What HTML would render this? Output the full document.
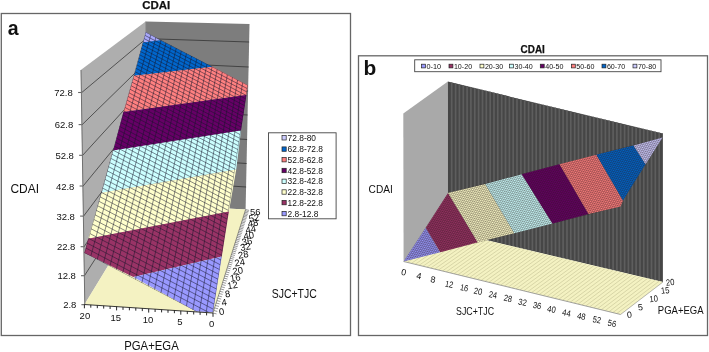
<!DOCTYPE html>
<html><head><meta charset="utf-8"><title>CDAI surface charts</title>
<style>html,body{margin:0;padding:0;background:#fff}svg{display:block}text{font-family:"Liberation Sans",sans-serif}</style>
</head><body>
<svg width="709" height="352" viewBox="0 0 709 352">
<rect width="709" height="352" fill="#fff"/>
<rect x="1.3" y="13.5" width="349.2" height="322" fill="#fff" stroke="#666" stroke-width="1.3"/>
<rect x="358.5" y="55.8" width="349" height="279.7" fill="#fff" stroke="#666" stroke-width="1.3"/>
<polygon points="80.8,70.0 145.7,21.6 145.7,204.0 84.6,304.5" fill="#aeaeae" />
<polygon points="145.7,21.6 249.5,24.0 245.6,209.5 145.7,204.0" fill="#7d7d7d" />
<line x1="81.3" y1="92.9" x2="145.7" y2="39.0" stroke="#333" stroke-width="0.75" />
<line x1="145.7" y1="38.6" x2="249.1" y2="42.0" stroke="#333" stroke-width="0.8" />
<line x1="78.1" y1="92.5" x2="81.3" y2="92.5" stroke="#666" stroke-width="1.1" />
<line x1="81.8" y1="125.0" x2="145.7" y2="62.6" stroke="#333" stroke-width="0.75" />
<line x1="145.7" y1="62.2" x2="248.6" y2="67.0" stroke="#333" stroke-width="0.8" />
<line x1="78.6" y1="124.6" x2="81.8" y2="124.6" stroke="#666" stroke-width="1.1" />
<line x1="82.3" y1="155.7" x2="145.7" y2="86.3" stroke="#333" stroke-width="0.75" />
<line x1="145.7" y1="85.9" x2="248.1" y2="91.0" stroke="#333" stroke-width="0.8" />
<line x1="79.1" y1="155.3" x2="82.3" y2="155.3" stroke="#666" stroke-width="1.1" />
<line x1="82.8" y1="186.4" x2="145.7" y2="109.9" stroke="#333" stroke-width="0.75" />
<line x1="145.7" y1="109.5" x2="247.6" y2="115.0" stroke="#333" stroke-width="0.8" />
<line x1="79.6" y1="186.0" x2="82.8" y2="186.0" stroke="#666" stroke-width="1.1" />
<line x1="83.3" y1="216.5" x2="145.7" y2="133.5" stroke="#333" stroke-width="0.75" />
<line x1="145.7" y1="133.1" x2="247.1" y2="139.5" stroke="#333" stroke-width="0.8" />
<line x1="80.1" y1="216.1" x2="83.3" y2="216.1" stroke="#666" stroke-width="1.1" />
<line x1="83.8" y1="247.1" x2="145.7" y2="157.2" stroke="#333" stroke-width="0.75" />
<line x1="145.7" y1="156.8" x2="246.6" y2="163.5" stroke="#333" stroke-width="0.8" />
<line x1="80.6" y1="246.7" x2="83.8" y2="246.7" stroke="#666" stroke-width="1.1" />
<line x1="84.2" y1="276.1" x2="145.7" y2="180.8" stroke="#333" stroke-width="0.75" />
<line x1="145.7" y1="180.4" x2="246.1" y2="187.0" stroke="#333" stroke-width="0.8" />
<line x1="81.0" y1="275.7" x2="84.2" y2="275.7" stroke="#666" stroke-width="1.1" />
<line x1="145.7" y1="21.6" x2="145.7" y2="204.0" stroke="#8a8a8a" stroke-width="0.8" />
<polygon points="84.4,304.5 213.0,313.0 245.6,209.5 145.7,204.0" fill="#f4f2c2" />
<line x1="81.0" y1="70.0" x2="84.8" y2="304.5" stroke="#707070" stroke-width="1" />
<line x1="81.4" y1="304.7" x2="84.6" y2="304.7" stroke="#555" stroke-width="1" />
<clipPath id="ca"><polygon points="145.7,32.1 247.8,85.2 213.0,312.3 196.2,311.5 84.4,252.9"/></clipPath>
<polygon points="145.7,32.1 160.5,40.3 143.0,42.4" fill="#a8a8fa" />
<polygon points="143.0,42.4 160.5,40.3 212.4,66.8 134.1,75.7" fill="#0066cc" />
<polygon points="134.1,75.7 212.4,66.8 247.8,85.2 246.4,95.0 123.4,112.0" fill="#ff8080" />
<polygon points="123.4,112.0 246.4,95.0 241.0,130.4 113.3,150.6" fill="#660066" />
<polygon points="113.3,150.6 241.0,130.4 236.2,169.4 101.7,192.8" fill="#ccffff" />
<polygon points="101.7,192.8 236.2,169.4 228.9,211.6 88.1,238.8" fill="#ffffcc" />
<polygon points="88.1,238.8 228.9,211.6 221.8,256.5 133.3,277.0 84.4,252.9" fill="#993366" />
<polygon points="133.3,277.0 221.8,256.5 213.0,312.3 196.2,311.5" fill="#9999ff" />
<g clip-path="url(#ca)" stroke-opacity="0.64">
<line x1="84.4" y1="252.9" x2="211.9" y2="319.7" stroke="#15152a" stroke-width="0.8" />
<line x1="85.8" y1="248.0" x2="212.7" y2="314.5" stroke="#15152a" stroke-width="0.8" />
<line x1="87.1" y1="243.1" x2="213.5" y2="309.3" stroke="#15152a" stroke-width="0.8" />
<line x1="88.5" y1="238.3" x2="214.3" y2="304.2" stroke="#15152a" stroke-width="0.8" />
<line x1="89.8" y1="233.5" x2="215.0" y2="299.1" stroke="#15152a" stroke-width="0.8" />
<line x1="91.1" y1="228.8" x2="215.8" y2="294.1" stroke="#15152a" stroke-width="0.8" />
<line x1="92.4" y1="224.1" x2="216.6" y2="289.1" stroke="#15152a" stroke-width="0.8" />
<line x1="93.7" y1="219.4" x2="217.3" y2="284.2" stroke="#15152a" stroke-width="0.8" />
<line x1="95.0" y1="214.8" x2="218.1" y2="279.3" stroke="#15152a" stroke-width="0.8" />
<line x1="96.2" y1="210.3" x2="218.8" y2="274.4" stroke="#15152a" stroke-width="0.8" />
<line x1="97.5" y1="205.7" x2="219.6" y2="269.6" stroke="#15152a" stroke-width="0.8" />
<line x1="98.7" y1="201.2" x2="220.3" y2="264.8" stroke="#15152a" stroke-width="0.8" />
<line x1="100.0" y1="196.8" x2="221.0" y2="260.1" stroke="#15152a" stroke-width="0.8" />
<line x1="101.2" y1="192.3" x2="221.7" y2="255.4" stroke="#15152a" stroke-width="0.8" />
<line x1="102.4" y1="188.0" x2="222.5" y2="250.7" stroke="#15152a" stroke-width="0.8" />
<line x1="103.6" y1="183.6" x2="223.2" y2="246.1" stroke="#15152a" stroke-width="0.8" />
<line x1="104.8" y1="179.3" x2="223.9" y2="241.5" stroke="#15152a" stroke-width="0.8" />
<line x1="106.0" y1="175.0" x2="224.6" y2="237.0" stroke="#15152a" stroke-width="0.8" />
<line x1="107.2" y1="170.8" x2="225.3" y2="232.5" stroke="#15152a" stroke-width="0.8" />
<line x1="108.4" y1="166.6" x2="225.9" y2="228.0" stroke="#15152a" stroke-width="0.8" />
<line x1="109.5" y1="162.4" x2="226.6" y2="223.6" stroke="#15152a" stroke-width="0.8" />
<line x1="110.7" y1="158.3" x2="227.3" y2="219.2" stroke="#15152a" stroke-width="0.8" />
<line x1="111.8" y1="154.2" x2="228.0" y2="214.8" stroke="#15152a" stroke-width="0.8" />
<line x1="112.9" y1="150.1" x2="228.6" y2="210.5" stroke="#15152a" stroke-width="0.8" />
<line x1="114.1" y1="146.1" x2="229.3" y2="206.2" stroke="#15152a" stroke-width="0.8" />
<line x1="115.2" y1="142.1" x2="229.9" y2="202.0" stroke="#15152a" stroke-width="0.8" />
<line x1="116.3" y1="138.1" x2="230.6" y2="197.8" stroke="#15152a" stroke-width="0.8" />
<line x1="117.4" y1="134.1" x2="231.2" y2="193.6" stroke="#15152a" stroke-width="0.8" />
<line x1="118.5" y1="130.2" x2="231.8" y2="189.4" stroke="#15152a" stroke-width="0.8" />
<line x1="119.5" y1="126.4" x2="232.5" y2="185.3" stroke="#15152a" stroke-width="0.8" />
<line x1="120.6" y1="122.5" x2="233.1" y2="181.2" stroke="#15152a" stroke-width="0.8" />
<line x1="121.7" y1="118.7" x2="233.7" y2="177.2" stroke="#15152a" stroke-width="0.8" />
<line x1="122.7" y1="114.9" x2="234.3" y2="173.1" stroke="#15152a" stroke-width="0.8" />
<line x1="123.8" y1="111.1" x2="234.9" y2="169.1" stroke="#15152a" stroke-width="0.8" />
<line x1="124.8" y1="107.4" x2="235.6" y2="165.2" stroke="#15152a" stroke-width="0.8" />
<line x1="125.8" y1="103.7" x2="236.2" y2="161.3" stroke="#15152a" stroke-width="0.8" />
<line x1="126.8" y1="100.0" x2="236.8" y2="157.4" stroke="#15152a" stroke-width="0.8" />
<line x1="127.9" y1="96.4" x2="237.3" y2="153.5" stroke="#15152a" stroke-width="0.8" />
<line x1="128.9" y1="92.8" x2="237.9" y2="149.6" stroke="#15152a" stroke-width="0.8" />
<line x1="129.9" y1="89.2" x2="238.5" y2="145.8" stroke="#15152a" stroke-width="0.8" />
<line x1="130.8" y1="85.6" x2="239.1" y2="142.0" stroke="#15152a" stroke-width="0.8" />
<line x1="131.8" y1="82.1" x2="239.7" y2="138.3" stroke="#15152a" stroke-width="0.8" />
<line x1="132.8" y1="78.6" x2="240.2" y2="134.6" stroke="#15152a" stroke-width="0.8" />
<line x1="133.8" y1="75.1" x2="240.8" y2="130.9" stroke="#15152a" stroke-width="0.8" />
<line x1="134.7" y1="71.6" x2="241.4" y2="127.2" stroke="#15152a" stroke-width="0.8" />
<line x1="135.7" y1="68.2" x2="241.9" y2="123.6" stroke="#15152a" stroke-width="0.8" />
<line x1="136.6" y1="64.8" x2="242.5" y2="119.9" stroke="#15152a" stroke-width="0.8" />
<line x1="137.6" y1="61.4" x2="243.0" y2="116.4" stroke="#15152a" stroke-width="0.8" />
<line x1="138.5" y1="58.1" x2="243.6" y2="112.8" stroke="#15152a" stroke-width="0.8" />
<line x1="139.4" y1="54.7" x2="244.1" y2="109.3" stroke="#15152a" stroke-width="0.8" />
<line x1="140.3" y1="51.4" x2="244.7" y2="105.7" stroke="#15152a" stroke-width="0.8" />
<line x1="141.2" y1="48.2" x2="245.2" y2="102.3" stroke="#15152a" stroke-width="0.8" />
<line x1="142.1" y1="44.9" x2="245.7" y2="98.8" stroke="#15152a" stroke-width="0.8" />
<line x1="143.0" y1="41.7" x2="246.2" y2="95.4" stroke="#15152a" stroke-width="0.8" />
<line x1="143.9" y1="38.5" x2="246.8" y2="91.9" stroke="#15152a" stroke-width="0.8" />
<line x1="144.8" y1="35.3" x2="247.3" y2="88.6" stroke="#15152a" stroke-width="0.8" />
<line x1="145.7" y1="32.1" x2="247.8" y2="85.2" stroke="#15152a" stroke-width="0.8" />
<line x1="145.7" y1="32.1" x2="84.4" y2="252.9" stroke="#15152a" stroke-width="0.8" />
<line x1="150.8" y1="34.8" x2="90.8" y2="256.2" stroke="#15152a" stroke-width="0.8" />
<line x1="155.9" y1="37.4" x2="97.2" y2="259.6" stroke="#15152a" stroke-width="0.8" />
<line x1="161.0" y1="40.1" x2="103.5" y2="262.9" stroke="#15152a" stroke-width="0.8" />
<line x1="166.1" y1="42.7" x2="109.9" y2="266.3" stroke="#15152a" stroke-width="0.8" />
<line x1="171.2" y1="45.4" x2="116.3" y2="269.6" stroke="#15152a" stroke-width="0.8" />
<line x1="176.3" y1="48.0" x2="122.7" y2="272.9" stroke="#15152a" stroke-width="0.8" />
<line x1="181.4" y1="50.7" x2="129.0" y2="276.3" stroke="#15152a" stroke-width="0.8" />
<line x1="186.5" y1="53.3" x2="135.4" y2="279.6" stroke="#15152a" stroke-width="0.8" />
<line x1="191.6" y1="56.0" x2="141.8" y2="283.0" stroke="#15152a" stroke-width="0.8" />
<line x1="196.8" y1="58.7" x2="148.2" y2="286.3" stroke="#15152a" stroke-width="0.8" />
<line x1="201.9" y1="61.3" x2="154.5" y2="289.6" stroke="#15152a" stroke-width="0.8" />
<line x1="207.0" y1="64.0" x2="160.9" y2="293.0" stroke="#15152a" stroke-width="0.8" />
<line x1="212.1" y1="66.6" x2="167.3" y2="296.3" stroke="#15152a" stroke-width="0.8" />
<line x1="217.2" y1="69.3" x2="173.7" y2="299.7" stroke="#15152a" stroke-width="0.8" />
<line x1="222.3" y1="71.9" x2="180.0" y2="303.0" stroke="#15152a" stroke-width="0.8" />
<line x1="227.4" y1="74.6" x2="186.4" y2="306.3" stroke="#15152a" stroke-width="0.8" />
<line x1="232.5" y1="77.2" x2="192.8" y2="309.7" stroke="#15152a" stroke-width="0.8" />
<line x1="237.6" y1="79.9" x2="199.2" y2="313.0" stroke="#15152a" stroke-width="0.8" />
<line x1="242.7" y1="82.5" x2="205.5" y2="316.4" stroke="#15152a" stroke-width="0.8" />
<line x1="247.8" y1="85.2" x2="211.9" y2="319.7" stroke="#15152a" stroke-width="0.8" />
</g>
<line x1="84.4" y1="304.5" x2="213.0" y2="313.0" stroke="#222" stroke-width="0.9" />
<line x1="84.4" y1="304.5" x2="84.4" y2="308.3" stroke="#111" stroke-width="0.9" />
<line x1="90.8" y1="304.9" x2="90.8" y2="307.7" stroke="#111" stroke-width="0.9" />
<line x1="97.3" y1="305.4" x2="97.3" y2="308.2" stroke="#111" stroke-width="0.9" />
<line x1="103.7" y1="305.8" x2="103.7" y2="308.6" stroke="#111" stroke-width="0.9" />
<line x1="110.1" y1="306.2" x2="110.1" y2="309.0" stroke="#111" stroke-width="0.9" />
<line x1="116.6" y1="306.6" x2="116.6" y2="310.4" stroke="#111" stroke-width="0.9" />
<line x1="123.0" y1="307.1" x2="123.0" y2="309.9" stroke="#111" stroke-width="0.9" />
<line x1="129.4" y1="307.5" x2="129.4" y2="310.3" stroke="#111" stroke-width="0.9" />
<line x1="135.8" y1="307.9" x2="135.8" y2="310.7" stroke="#111" stroke-width="0.9" />
<line x1="142.3" y1="308.3" x2="142.3" y2="311.1" stroke="#111" stroke-width="0.9" />
<line x1="148.7" y1="308.8" x2="148.7" y2="312.6" stroke="#111" stroke-width="0.9" />
<line x1="155.1" y1="309.2" x2="155.1" y2="312.0" stroke="#111" stroke-width="0.9" />
<line x1="161.6" y1="309.6" x2="161.6" y2="312.4" stroke="#111" stroke-width="0.9" />
<line x1="168.0" y1="310.0" x2="168.0" y2="312.8" stroke="#111" stroke-width="0.9" />
<line x1="174.4" y1="310.4" x2="174.4" y2="313.2" stroke="#111" stroke-width="0.9" />
<line x1="180.8" y1="310.9" x2="180.8" y2="314.7" stroke="#111" stroke-width="0.9" />
<line x1="187.3" y1="311.3" x2="187.3" y2="314.1" stroke="#111" stroke-width="0.9" />
<line x1="193.7" y1="311.7" x2="193.7" y2="314.5" stroke="#111" stroke-width="0.9" />
<line x1="200.1" y1="312.1" x2="200.1" y2="314.9" stroke="#111" stroke-width="0.9" />
<line x1="206.6" y1="312.6" x2="206.6" y2="315.4" stroke="#111" stroke-width="0.9" />
<line x1="213.0" y1="313.0" x2="213.0" y2="316.8" stroke="#111" stroke-width="0.9" />
<line x1="213.0" y1="313.0" x2="245.6" y2="209.5" stroke="#555" stroke-width="0.6" />
<line x1="213.0" y1="313.0" x2="216.5" y2="313.9" stroke="#333" stroke-width="0.5" />
<line x1="213.8" y1="310.5" x2="217.3" y2="311.4" stroke="#333" stroke-width="0.5" />
<line x1="214.6" y1="307.9" x2="218.1" y2="308.8" stroke="#333" stroke-width="0.5" />
<line x1="215.4" y1="305.5" x2="218.9" y2="306.4" stroke="#333" stroke-width="0.5" />
<line x1="216.1" y1="303.0" x2="219.6" y2="303.9" stroke="#333" stroke-width="0.5" />
<line x1="216.9" y1="300.6" x2="220.4" y2="301.5" stroke="#333" stroke-width="0.5" />
<line x1="217.7" y1="298.2" x2="221.2" y2="299.1" stroke="#333" stroke-width="0.5" />
<line x1="218.4" y1="295.9" x2="221.9" y2="296.8" stroke="#333" stroke-width="0.5" />
<line x1="219.1" y1="293.5" x2="222.6" y2="294.4" stroke="#333" stroke-width="0.5" />
<line x1="219.8" y1="291.3" x2="223.3" y2="292.2" stroke="#333" stroke-width="0.5" />
<line x1="220.6" y1="289.0" x2="224.1" y2="289.9" stroke="#333" stroke-width="0.5" />
<line x1="221.3" y1="286.8" x2="224.8" y2="287.7" stroke="#333" stroke-width="0.5" />
<line x1="222.0" y1="284.6" x2="225.5" y2="285.5" stroke="#333" stroke-width="0.5" />
<line x1="222.6" y1="282.4" x2="226.1" y2="283.3" stroke="#333" stroke-width="0.5" />
<line x1="223.3" y1="280.2" x2="226.8" y2="281.1" stroke="#333" stroke-width="0.5" />
<line x1="224.0" y1="278.1" x2="227.5" y2="279.0" stroke="#333" stroke-width="0.5" />
<line x1="224.6" y1="276.0" x2="228.1" y2="276.9" stroke="#333" stroke-width="0.5" />
<line x1="225.3" y1="274.0" x2="228.8" y2="274.9" stroke="#333" stroke-width="0.5" />
<line x1="225.9" y1="271.9" x2="229.4" y2="272.8" stroke="#333" stroke-width="0.5" />
<line x1="226.6" y1="269.9" x2="230.1" y2="270.8" stroke="#333" stroke-width="0.5" />
<line x1="227.2" y1="267.9" x2="230.7" y2="268.8" stroke="#333" stroke-width="0.5" />
<line x1="227.8" y1="266.0" x2="231.3" y2="266.9" stroke="#333" stroke-width="0.5" />
<line x1="228.4" y1="264.0" x2="231.9" y2="264.9" stroke="#333" stroke-width="0.5" />
<line x1="229.0" y1="262.1" x2="232.5" y2="263.0" stroke="#333" stroke-width="0.5" />
<line x1="229.6" y1="260.2" x2="233.1" y2="261.1" stroke="#333" stroke-width="0.5" />
<line x1="230.2" y1="258.3" x2="233.7" y2="259.2" stroke="#333" stroke-width="0.5" />
<line x1="230.8" y1="256.5" x2="234.3" y2="257.4" stroke="#333" stroke-width="0.5" />
<line x1="231.4" y1="254.6" x2="234.9" y2="255.5" stroke="#333" stroke-width="0.5" />
<line x1="232.0" y1="252.8" x2="235.5" y2="253.7" stroke="#333" stroke-width="0.5" />
<line x1="232.5" y1="251.0" x2="236.0" y2="251.9" stroke="#333" stroke-width="0.5" />
<line x1="233.1" y1="249.3" x2="236.6" y2="250.2" stroke="#333" stroke-width="0.5" />
<line x1="233.6" y1="247.5" x2="237.1" y2="248.4" stroke="#333" stroke-width="0.5" />
<line x1="234.2" y1="245.8" x2="237.7" y2="246.7" stroke="#333" stroke-width="0.5" />
<line x1="234.7" y1="244.1" x2="238.2" y2="245.0" stroke="#333" stroke-width="0.5" />
<line x1="235.2" y1="242.4" x2="238.7" y2="243.3" stroke="#333" stroke-width="0.5" />
<line x1="235.8" y1="240.7" x2="239.3" y2="241.6" stroke="#333" stroke-width="0.5" />
<line x1="236.3" y1="239.1" x2="239.8" y2="240.0" stroke="#333" stroke-width="0.5" />
<line x1="236.8" y1="237.4" x2="240.3" y2="238.3" stroke="#333" stroke-width="0.5" />
<line x1="237.3" y1="235.8" x2="240.8" y2="236.7" stroke="#333" stroke-width="0.5" />
<line x1="237.8" y1="234.2" x2="241.3" y2="235.1" stroke="#333" stroke-width="0.5" />
<line x1="238.3" y1="232.6" x2="241.8" y2="233.5" stroke="#333" stroke-width="0.5" />
<line x1="238.8" y1="231.1" x2="242.3" y2="232.0" stroke="#333" stroke-width="0.5" />
<line x1="239.3" y1="229.5" x2="242.8" y2="230.4" stroke="#333" stroke-width="0.5" />
<line x1="239.8" y1="228.0" x2="243.3" y2="228.9" stroke="#333" stroke-width="0.5" />
<line x1="240.2" y1="226.5" x2="243.7" y2="227.4" stroke="#333" stroke-width="0.5" />
<line x1="240.7" y1="225.0" x2="244.2" y2="225.9" stroke="#333" stroke-width="0.5" />
<line x1="241.2" y1="223.5" x2="244.7" y2="224.4" stroke="#333" stroke-width="0.5" />
<line x1="241.6" y1="222.0" x2="245.1" y2="222.9" stroke="#333" stroke-width="0.5" />
<line x1="242.1" y1="220.6" x2="245.6" y2="221.5" stroke="#333" stroke-width="0.5" />
<line x1="242.6" y1="219.2" x2="246.1" y2="220.1" stroke="#333" stroke-width="0.5" />
<line x1="243.0" y1="217.7" x2="246.5" y2="218.6" stroke="#333" stroke-width="0.5" />
<line x1="243.5" y1="216.3" x2="247.0" y2="217.2" stroke="#333" stroke-width="0.5" />
<line x1="243.9" y1="214.9" x2="247.4" y2="215.8" stroke="#333" stroke-width="0.5" />
<line x1="244.3" y1="213.6" x2="247.8" y2="214.5" stroke="#333" stroke-width="0.5" />
<line x1="244.8" y1="212.2" x2="248.3" y2="213.1" stroke="#333" stroke-width="0.5" />
<line x1="245.2" y1="210.8" x2="248.7" y2="211.7" stroke="#333" stroke-width="0.5" />
<line x1="245.6" y1="209.5" x2="249.1" y2="210.4" stroke="#333" stroke-width="0.5" />
<text x="72.8" y="96.2" font-size="9.5" text-anchor="end" fill="#111" >72.8</text>
<text x="73.3" y="128.3" font-size="9.5" text-anchor="end" fill="#111" >62.8</text>
<text x="73.9" y="159.0" font-size="9.5" text-anchor="end" fill="#111" >52.8</text>
<text x="74.4" y="189.7" font-size="9.5" text-anchor="end" fill="#111" >42.8</text>
<text x="74.9" y="219.8" font-size="9.5" text-anchor="end" fill="#111" >32.8</text>
<text x="75.4" y="250.4" font-size="9.5" text-anchor="end" fill="#111" >22.8</text>
<text x="75.9" y="279.4" font-size="9.5" text-anchor="end" fill="#111" >12.8</text>
<text x="76.4" y="308.2" font-size="9.5" text-anchor="end" fill="#111" >2.8</text>
<text x="10.4" y="192.7" font-size="12" textLength="28.6" lengthAdjust="spacingAndGlyphs" fill="#111" >CDAI</text>
<text x="84.9" y="319.3" font-size="9.5" text-anchor="middle" fill="#111" >20</text>
<text x="115.8" y="321.0" font-size="9.5" text-anchor="middle" fill="#111" >15</text>
<text x="148.1" y="323.2" font-size="9.5" text-anchor="middle" fill="#111" >10</text>
<text x="179.8" y="325.0" font-size="9.5" text-anchor="middle" fill="#111" >5</text>
<text x="211.6" y="327.4" font-size="9.5" text-anchor="middle" fill="#111" >0</text>
<text x="124.2" y="350.3" font-size="12" textLength="54.6" lengthAdjust="spacingAndGlyphs" fill="#111" >PGA+EGA</text>
<text x="271.7" y="298.1" font-size="12" textLength="45.1" lengthAdjust="spacingAndGlyphs" fill="#111" >SJC+TJC</text>
<text x="250.0" y="215.0" font-size="9.5" fill="#111" >56</text>
<text x="254.4" y="221.2" font-size="9.5" text-anchor="middle" transform="rotate(-9 254.4 221.2)" fill="#111" >52</text>
<text x="253.5" y="226.3" font-size="9.5" text-anchor="middle" transform="rotate(-9 253.5 226.3)" fill="#111" >48</text>
<text x="251.3" y="232.6" font-size="9.5" text-anchor="middle" transform="rotate(-9 251.3 232.6)" fill="#111" >44</text>
<text x="249.3" y="238.7" font-size="9.5" text-anchor="middle" transform="rotate(-9 249.3 238.7)" fill="#111" >40</text>
<text x="247.6" y="244.7" font-size="9.5" text-anchor="middle" transform="rotate(-9 247.6 244.7)" fill="#111" >36</text>
<text x="245.9" y="250.1" font-size="9.5" text-anchor="middle" transform="rotate(-9 245.9 250.1)" fill="#111" >32</text>
<text x="243.8" y="257.8" font-size="9.5" text-anchor="middle" transform="rotate(-9 243.8 257.8)" fill="#111" >28</text>
<text x="240.2" y="265.7" font-size="9.5" text-anchor="middle" transform="rotate(-9 240.2 265.7)" fill="#111" >24</text>
<text x="238.2" y="273.9" font-size="9.5" text-anchor="middle" transform="rotate(-9 238.2 273.9)" fill="#111" >20</text>
<text x="235.8" y="281.0" font-size="9.5" text-anchor="middle" transform="rotate(-9 235.8 281.0)" fill="#111" >16</text>
<text x="233.0" y="288.5" font-size="9.5" text-anchor="middle" transform="rotate(-9 233.0 288.5)" fill="#111" >12</text>
<text x="228.0" y="297.1" font-size="9.5" text-anchor="middle" transform="rotate(-9 228.0 297.1)" fill="#111" >8</text>
<text x="224.5" y="305.6" font-size="9.5" text-anchor="middle" transform="rotate(-9 224.5 305.6)" fill="#111" >4</text>
<text x="222.2" y="314.8" font-size="9.5" text-anchor="middle" transform="rotate(-9 222.2 314.8)" fill="#111" >0</text>
<text x="142.2" y="9.2" font-size="11.6" font-weight="bold" textLength="28" lengthAdjust="spacingAndGlyphs" fill="#111" stroke="#111" stroke-width="0.25">CDAI</text>
<text x="7.7" y="35.0" font-size="19.5" font-weight="bold" fill="#111" >a</text>
<rect x="268.5" y="132.8" width="67.6" height="86" fill="#fff" stroke="#444" stroke-width="0.9"/>
<rect x="282" y="135.6" width="4.2" height="4.4" fill="#ccccff" stroke="#222" stroke-width="0.7"/>
<text x="287.6" y="140.8" font-size="8.4" fill="#111" >72.8-80</text>
<rect x="282" y="146.9" width="4.2" height="4.4" fill="#0066cc" stroke="#222" stroke-width="0.7"/>
<text x="287.6" y="152.1" font-size="8.4" fill="#111" >62.8-72.8</text>
<rect x="282" y="157.5" width="4.2" height="4.4" fill="#ff8080" stroke="#222" stroke-width="0.7"/>
<text x="287.6" y="162.7" font-size="8.4" fill="#111" >52.8-62.8</text>
<rect x="282" y="168.3" width="4.2" height="4.4" fill="#660066" stroke="#222" stroke-width="0.7"/>
<text x="287.6" y="173.5" font-size="8.4" fill="#111" >42.8-52.8</text>
<rect x="282" y="179.1" width="4.2" height="4.4" fill="#ccffff" stroke="#222" stroke-width="0.7"/>
<text x="287.6" y="184.3" font-size="8.4" fill="#111" >32.8-42.8</text>
<rect x="282" y="189.8" width="4.2" height="4.4" fill="#ffffcc" stroke="#222" stroke-width="0.7"/>
<text x="287.6" y="195.0" font-size="8.4" fill="#111" >22.8-32.8</text>
<rect x="282" y="200.4" width="4.2" height="4.4" fill="#993366" stroke="#222" stroke-width="0.7"/>
<text x="287.6" y="205.6" font-size="8.4" fill="#111" >12.8-22.8</text>
<rect x="282" y="211.4" width="4.2" height="4.4" fill="#9999ff" stroke="#222" stroke-width="0.7"/>
<text x="287.6" y="216.6" font-size="8.4" fill="#111" >2.8-12.8</text>
<polygon points="403.3,113.4 447.9,81.6 447.9,231.0 403.6,261.5" fill="#a9a9a9" />
<polygon points="447.9,81.6 663.0,133.6 663.0,282.0 447.9,231.0" fill="#464646" />
<clipPath id="cbw"><polygon points="447.9,81.6 663.0,133.6 663.0,282.0 447.9,231.0"/></clipPath>
<g clip-path="url(#cbw)">
<line x1="451.7" y1="80.0" x2="451.7" y2="283.0" stroke="#5e5e5e" stroke-width="1.7" />
<line x1="455.6" y1="80.0" x2="455.6" y2="283.0" stroke="#5e5e5e" stroke-width="1.7" />
<line x1="459.4" y1="80.0" x2="459.4" y2="283.0" stroke="#5e5e5e" stroke-width="1.7" />
<line x1="463.3" y1="80.0" x2="463.3" y2="283.0" stroke="#5e5e5e" stroke-width="1.7" />
<line x1="467.1" y1="80.0" x2="467.1" y2="283.0" stroke="#5e5e5e" stroke-width="1.7" />
<line x1="470.9" y1="80.0" x2="470.9" y2="283.0" stroke="#5e5e5e" stroke-width="1.7" />
<line x1="474.8" y1="80.0" x2="474.8" y2="283.0" stroke="#5e5e5e" stroke-width="1.7" />
<line x1="478.6" y1="80.0" x2="478.6" y2="283.0" stroke="#5e5e5e" stroke-width="1.7" />
<line x1="482.5" y1="80.0" x2="482.5" y2="283.0" stroke="#5e5e5e" stroke-width="1.7" />
<line x1="486.3" y1="80.0" x2="486.3" y2="283.0" stroke="#5e5e5e" stroke-width="1.7" />
<line x1="490.2" y1="80.0" x2="490.2" y2="283.0" stroke="#5e5e5e" stroke-width="1.7" />
<line x1="494.0" y1="80.0" x2="494.0" y2="283.0" stroke="#5e5e5e" stroke-width="1.7" />
<line x1="497.8" y1="80.0" x2="497.8" y2="283.0" stroke="#5e5e5e" stroke-width="1.7" />
<line x1="501.7" y1="80.0" x2="501.7" y2="283.0" stroke="#5e5e5e" stroke-width="1.7" />
<line x1="505.5" y1="80.0" x2="505.5" y2="283.0" stroke="#5e5e5e" stroke-width="1.7" />
<line x1="509.4" y1="80.0" x2="509.4" y2="283.0" stroke="#5e5e5e" stroke-width="1.7" />
<line x1="513.2" y1="80.0" x2="513.2" y2="283.0" stroke="#5e5e5e" stroke-width="1.7" />
<line x1="517.0" y1="80.0" x2="517.0" y2="283.0" stroke="#5e5e5e" stroke-width="1.7" />
<line x1="520.9" y1="80.0" x2="520.9" y2="283.0" stroke="#5e5e5e" stroke-width="1.7" />
<line x1="524.7" y1="80.0" x2="524.7" y2="283.0" stroke="#5e5e5e" stroke-width="1.7" />
<line x1="528.6" y1="80.0" x2="528.6" y2="283.0" stroke="#5e5e5e" stroke-width="1.7" />
<line x1="532.4" y1="80.0" x2="532.4" y2="283.0" stroke="#5e5e5e" stroke-width="1.7" />
<line x1="536.2" y1="80.0" x2="536.2" y2="283.0" stroke="#5e5e5e" stroke-width="1.7" />
<line x1="540.1" y1="80.0" x2="540.1" y2="283.0" stroke="#5e5e5e" stroke-width="1.7" />
<line x1="543.9" y1="80.0" x2="543.9" y2="283.0" stroke="#5e5e5e" stroke-width="1.7" />
<line x1="547.8" y1="80.0" x2="547.8" y2="283.0" stroke="#5e5e5e" stroke-width="1.7" />
<line x1="551.6" y1="80.0" x2="551.6" y2="283.0" stroke="#5e5e5e" stroke-width="1.7" />
<line x1="555.5" y1="80.0" x2="555.5" y2="283.0" stroke="#5e5e5e" stroke-width="1.7" />
<line x1="559.3" y1="80.0" x2="559.3" y2="283.0" stroke="#5e5e5e" stroke-width="1.7" />
<line x1="563.1" y1="80.0" x2="563.1" y2="283.0" stroke="#5e5e5e" stroke-width="1.7" />
<line x1="567.0" y1="80.0" x2="567.0" y2="283.0" stroke="#5e5e5e" stroke-width="1.7" />
<line x1="570.8" y1="80.0" x2="570.8" y2="283.0" stroke="#5e5e5e" stroke-width="1.7" />
<line x1="574.7" y1="80.0" x2="574.7" y2="283.0" stroke="#5e5e5e" stroke-width="1.7" />
<line x1="578.5" y1="80.0" x2="578.5" y2="283.0" stroke="#5e5e5e" stroke-width="1.7" />
<line x1="582.3" y1="80.0" x2="582.3" y2="283.0" stroke="#5e5e5e" stroke-width="1.7" />
<line x1="586.2" y1="80.0" x2="586.2" y2="283.0" stroke="#5e5e5e" stroke-width="1.7" />
<line x1="590.0" y1="80.0" x2="590.0" y2="283.0" stroke="#5e5e5e" stroke-width="1.7" />
<line x1="593.9" y1="80.0" x2="593.9" y2="283.0" stroke="#5e5e5e" stroke-width="1.7" />
<line x1="597.7" y1="80.0" x2="597.7" y2="283.0" stroke="#5e5e5e" stroke-width="1.7" />
<line x1="601.5" y1="80.0" x2="601.5" y2="283.0" stroke="#5e5e5e" stroke-width="1.7" />
<line x1="605.4" y1="80.0" x2="605.4" y2="283.0" stroke="#5e5e5e" stroke-width="1.7" />
<line x1="609.2" y1="80.0" x2="609.2" y2="283.0" stroke="#5e5e5e" stroke-width="1.7" />
<line x1="613.1" y1="80.0" x2="613.1" y2="283.0" stroke="#5e5e5e" stroke-width="1.7" />
<line x1="616.9" y1="80.0" x2="616.9" y2="283.0" stroke="#5e5e5e" stroke-width="1.7" />
<line x1="620.7" y1="80.0" x2="620.7" y2="283.0" stroke="#5e5e5e" stroke-width="1.7" />
<line x1="624.6" y1="80.0" x2="624.6" y2="283.0" stroke="#5e5e5e" stroke-width="1.7" />
<line x1="628.4" y1="80.0" x2="628.4" y2="283.0" stroke="#5e5e5e" stroke-width="1.7" />
<line x1="632.3" y1="80.0" x2="632.3" y2="283.0" stroke="#5e5e5e" stroke-width="1.7" />
<line x1="636.1" y1="80.0" x2="636.1" y2="283.0" stroke="#5e5e5e" stroke-width="1.7" />
<line x1="640.0" y1="80.0" x2="640.0" y2="283.0" stroke="#5e5e5e" stroke-width="1.7" />
<line x1="643.8" y1="80.0" x2="643.8" y2="283.0" stroke="#5e5e5e" stroke-width="1.7" />
<line x1="647.6" y1="80.0" x2="647.6" y2="283.0" stroke="#5e5e5e" stroke-width="1.7" />
<line x1="651.5" y1="80.0" x2="651.5" y2="283.0" stroke="#5e5e5e" stroke-width="1.7" />
<line x1="655.3" y1="80.0" x2="655.3" y2="283.0" stroke="#5e5e5e" stroke-width="1.7" />
<line x1="659.2" y1="80.0" x2="659.2" y2="283.0" stroke="#5e5e5e" stroke-width="1.7" />
<line x1="663.0" y1="80.0" x2="663.0" y2="283.0" stroke="#5e5e5e" stroke-width="1.7" />
</g>
<polygon points="403.6,261.5 620.6,314.5 663.0,282.0 447.9,231.0" fill="#f4f2c2" />
<clipPath id="cfb"><polygon points="403.6,261.5 620.6,314.5 663.0,282.0 447.9,231.0"/></clipPath>
<g clip-path="url(#cfb)">
<line x1="407.5" y1="262.4" x2="451.7" y2="231.9" stroke="#d2d0a2" stroke-width="0.85" />
<line x1="411.4" y1="263.4" x2="455.6" y2="232.8" stroke="#d2d0a2" stroke-width="0.85" />
<line x1="415.2" y1="264.3" x2="459.4" y2="233.7" stroke="#d2d0a2" stroke-width="0.85" />
<line x1="419.1" y1="265.3" x2="463.3" y2="234.6" stroke="#d2d0a2" stroke-width="0.85" />
<line x1="423.0" y1="266.2" x2="467.1" y2="235.6" stroke="#d2d0a2" stroke-width="0.85" />
<line x1="426.9" y1="267.2" x2="470.9" y2="236.5" stroke="#d2d0a2" stroke-width="0.85" />
<line x1="430.7" y1="268.1" x2="474.8" y2="237.4" stroke="#d2d0a2" stroke-width="0.85" />
<line x1="434.6" y1="269.1" x2="478.6" y2="238.3" stroke="#d2d0a2" stroke-width="0.85" />
<line x1="438.5" y1="270.0" x2="482.5" y2="239.2" stroke="#d2d0a2" stroke-width="0.85" />
<line x1="442.4" y1="271.0" x2="486.3" y2="240.1" stroke="#d2d0a2" stroke-width="0.85" />
<line x1="446.2" y1="271.9" x2="490.2" y2="241.0" stroke="#d2d0a2" stroke-width="0.85" />
<line x1="450.1" y1="272.9" x2="494.0" y2="241.9" stroke="#d2d0a2" stroke-width="0.85" />
<line x1="454.0" y1="273.8" x2="497.8" y2="242.8" stroke="#d2d0a2" stroke-width="0.85" />
<line x1="457.9" y1="274.8" x2="501.7" y2="243.8" stroke="#d2d0a2" stroke-width="0.85" />
<line x1="461.7" y1="275.7" x2="505.5" y2="244.7" stroke="#d2d0a2" stroke-width="0.85" />
<line x1="465.6" y1="276.6" x2="509.4" y2="245.6" stroke="#d2d0a2" stroke-width="0.85" />
<line x1="469.5" y1="277.6" x2="513.2" y2="246.5" stroke="#d2d0a2" stroke-width="0.85" />
<line x1="473.4" y1="278.5" x2="517.0" y2="247.4" stroke="#d2d0a2" stroke-width="0.85" />
<line x1="477.2" y1="279.5" x2="520.9" y2="248.3" stroke="#d2d0a2" stroke-width="0.85" />
<line x1="481.1" y1="280.4" x2="524.7" y2="249.2" stroke="#d2d0a2" stroke-width="0.85" />
<line x1="485.0" y1="281.4" x2="528.6" y2="250.1" stroke="#d2d0a2" stroke-width="0.85" />
<line x1="488.9" y1="282.3" x2="532.4" y2="251.0" stroke="#d2d0a2" stroke-width="0.85" />
<line x1="492.7" y1="283.3" x2="536.2" y2="251.9" stroke="#d2d0a2" stroke-width="0.85" />
<line x1="496.6" y1="284.2" x2="540.1" y2="252.9" stroke="#d2d0a2" stroke-width="0.85" />
<line x1="500.5" y1="285.2" x2="543.9" y2="253.8" stroke="#d2d0a2" stroke-width="0.85" />
<line x1="504.4" y1="286.1" x2="547.8" y2="254.7" stroke="#d2d0a2" stroke-width="0.85" />
<line x1="508.2" y1="287.1" x2="551.6" y2="255.6" stroke="#d2d0a2" stroke-width="0.85" />
<line x1="512.1" y1="288.0" x2="555.5" y2="256.5" stroke="#d2d0a2" stroke-width="0.85" />
<line x1="516.0" y1="288.9" x2="559.3" y2="257.4" stroke="#d2d0a2" stroke-width="0.85" />
<line x1="519.9" y1="289.9" x2="563.1" y2="258.3" stroke="#d2d0a2" stroke-width="0.85" />
<line x1="523.7" y1="290.8" x2="567.0" y2="259.2" stroke="#d2d0a2" stroke-width="0.85" />
<line x1="527.6" y1="291.8" x2="570.8" y2="260.1" stroke="#d2d0a2" stroke-width="0.85" />
<line x1="531.5" y1="292.7" x2="574.7" y2="261.1" stroke="#d2d0a2" stroke-width="0.85" />
<line x1="535.4" y1="293.7" x2="578.5" y2="262.0" stroke="#d2d0a2" stroke-width="0.85" />
<line x1="539.2" y1="294.6" x2="582.3" y2="262.9" stroke="#d2d0a2" stroke-width="0.85" />
<line x1="543.1" y1="295.6" x2="586.2" y2="263.8" stroke="#d2d0a2" stroke-width="0.85" />
<line x1="547.0" y1="296.5" x2="590.0" y2="264.7" stroke="#d2d0a2" stroke-width="0.85" />
<line x1="550.9" y1="297.5" x2="593.9" y2="265.6" stroke="#d2d0a2" stroke-width="0.85" />
<line x1="554.7" y1="298.4" x2="597.7" y2="266.5" stroke="#d2d0a2" stroke-width="0.85" />
<line x1="558.6" y1="299.4" x2="601.5" y2="267.4" stroke="#d2d0a2" stroke-width="0.85" />
<line x1="562.5" y1="300.3" x2="605.4" y2="268.3" stroke="#d2d0a2" stroke-width="0.85" />
<line x1="566.4" y1="301.2" x2="609.2" y2="269.2" stroke="#d2d0a2" stroke-width="0.85" />
<line x1="570.2" y1="302.2" x2="613.1" y2="270.2" stroke="#d2d0a2" stroke-width="0.85" />
<line x1="574.1" y1="303.1" x2="616.9" y2="271.1" stroke="#d2d0a2" stroke-width="0.85" />
<line x1="578.0" y1="304.1" x2="620.7" y2="272.0" stroke="#d2d0a2" stroke-width="0.85" />
<line x1="581.9" y1="305.0" x2="624.6" y2="272.9" stroke="#d2d0a2" stroke-width="0.85" />
<line x1="585.7" y1="306.0" x2="628.4" y2="273.8" stroke="#d2d0a2" stroke-width="0.85" />
<line x1="589.6" y1="306.9" x2="632.3" y2="274.7" stroke="#d2d0a2" stroke-width="0.85" />
<line x1="593.5" y1="307.9" x2="636.1" y2="275.6" stroke="#d2d0a2" stroke-width="0.85" />
<line x1="597.4" y1="308.8" x2="640.0" y2="276.5" stroke="#d2d0a2" stroke-width="0.85" />
<line x1="601.2" y1="309.8" x2="643.8" y2="277.4" stroke="#d2d0a2" stroke-width="0.85" />
<line x1="605.1" y1="310.7" x2="647.6" y2="278.4" stroke="#d2d0a2" stroke-width="0.85" />
<line x1="609.0" y1="311.7" x2="651.5" y2="279.3" stroke="#d2d0a2" stroke-width="0.85" />
<line x1="612.9" y1="312.6" x2="655.3" y2="280.2" stroke="#d2d0a2" stroke-width="0.85" />
<line x1="616.7" y1="313.6" x2="659.2" y2="281.1" stroke="#d2d0a2" stroke-width="0.85" />
<line x1="620.6" y1="314.5" x2="663.0" y2="282.0" stroke="#d2d0a2" stroke-width="0.85" />
</g>
<polygon points="403.6,261.4 425.8,227.7 440.3,252.2" fill="#9999ff" />
<polygon points="425.8,227.7 448.0,193.0 477.7,242.3 440.3,252.2" fill="#993366" />
<polygon points="448.0,193.0 485.3,184.0 514.3,233.2 477.7,242.3" fill="#ffffcc" />
<polygon points="485.3,184.0 521.8,174.2 552.5,223.4 514.3,233.2" fill="#ccffff" />
<polygon points="521.8,174.2 559.5,164.3 588.5,214.0 552.5,223.4" fill="#660066" />
<polygon points="559.5,164.3 596.4,154.8 623.0,200.5 620.5,206.6 588.5,214.0" fill="#ff8080" />
<polygon points="596.4,154.8 633.5,145.6 645.5,164.3 623.0,200.5" fill="#0066cc" />
<polygon points="633.5,145.6 662.5,137.5 645.5,164.3" fill="#ccccff" />
<clipPath id="cb"><polygon points="448.0,193.0 662.5,137.5 623.0,200.5 620.5,206.6 403.6,261.4"/></clipPath>
<g clip-path="url(#cb)" stroke-opacity="0.36">
<line x1="403.6" y1="261.4" x2="448.0" y2="193.0" stroke="#2a1a1a" stroke-width="0.85" />
<line x1="406.2" y1="260.7" x2="450.6" y2="192.3" stroke="#2a1a1a" stroke-width="0.85" />
<line x1="408.8" y1="260.1" x2="453.1" y2="191.7" stroke="#2a1a1a" stroke-width="0.85" />
<line x1="411.4" y1="259.4" x2="455.7" y2="191.0" stroke="#2a1a1a" stroke-width="0.85" />
<line x1="414.0" y1="258.8" x2="458.2" y2="190.4" stroke="#2a1a1a" stroke-width="0.85" />
<line x1="416.6" y1="258.1" x2="460.8" y2="189.7" stroke="#2a1a1a" stroke-width="0.85" />
<line x1="419.2" y1="257.5" x2="463.3" y2="189.0" stroke="#2a1a1a" stroke-width="0.85" />
<line x1="421.8" y1="256.8" x2="465.9" y2="188.4" stroke="#2a1a1a" stroke-width="0.85" />
<line x1="424.4" y1="256.2" x2="468.4" y2="187.7" stroke="#2a1a1a" stroke-width="0.85" />
<line x1="426.9" y1="255.5" x2="471.0" y2="187.1" stroke="#2a1a1a" stroke-width="0.85" />
<line x1="429.5" y1="254.9" x2="473.5" y2="186.4" stroke="#2a1a1a" stroke-width="0.85" />
<line x1="432.1" y1="254.2" x2="476.1" y2="185.7" stroke="#2a1a1a" stroke-width="0.85" />
<line x1="434.7" y1="253.5" x2="478.6" y2="185.1" stroke="#2a1a1a" stroke-width="0.85" />
<line x1="437.3" y1="252.9" x2="481.2" y2="184.4" stroke="#2a1a1a" stroke-width="0.85" />
<line x1="439.9" y1="252.2" x2="483.8" y2="183.8" stroke="#2a1a1a" stroke-width="0.85" />
<line x1="442.5" y1="251.6" x2="486.3" y2="183.1" stroke="#2a1a1a" stroke-width="0.85" />
<line x1="445.1" y1="250.9" x2="488.9" y2="182.4" stroke="#2a1a1a" stroke-width="0.85" />
<line x1="447.7" y1="250.3" x2="491.4" y2="181.8" stroke="#2a1a1a" stroke-width="0.85" />
<line x1="450.3" y1="249.6" x2="494.0" y2="181.1" stroke="#2a1a1a" stroke-width="0.85" />
<line x1="452.9" y1="249.0" x2="496.5" y2="180.4" stroke="#2a1a1a" stroke-width="0.85" />
<line x1="455.5" y1="248.3" x2="499.1" y2="179.8" stroke="#2a1a1a" stroke-width="0.85" />
<line x1="458.1" y1="247.6" x2="501.6" y2="179.1" stroke="#2a1a1a" stroke-width="0.85" />
<line x1="460.7" y1="247.0" x2="504.2" y2="178.5" stroke="#2a1a1a" stroke-width="0.85" />
<line x1="463.3" y1="246.3" x2="506.7" y2="177.8" stroke="#2a1a1a" stroke-width="0.85" />
<line x1="465.9" y1="245.7" x2="509.3" y2="177.1" stroke="#2a1a1a" stroke-width="0.85" />
<line x1="468.5" y1="245.0" x2="511.8" y2="176.5" stroke="#2a1a1a" stroke-width="0.85" />
<line x1="471.0" y1="244.4" x2="514.4" y2="175.8" stroke="#2a1a1a" stroke-width="0.85" />
<line x1="473.6" y1="243.7" x2="516.9" y2="175.2" stroke="#2a1a1a" stroke-width="0.85" />
<line x1="476.2" y1="243.1" x2="519.5" y2="174.5" stroke="#2a1a1a" stroke-width="0.85" />
<line x1="478.8" y1="242.4" x2="522.1" y2="173.8" stroke="#2a1a1a" stroke-width="0.85" />
<line x1="481.4" y1="241.8" x2="524.6" y2="173.2" stroke="#2a1a1a" stroke-width="0.85" />
<line x1="484.0" y1="241.1" x2="527.2" y2="172.5" stroke="#2a1a1a" stroke-width="0.85" />
<line x1="486.6" y1="240.4" x2="529.7" y2="171.9" stroke="#2a1a1a" stroke-width="0.85" />
<line x1="489.2" y1="239.8" x2="532.3" y2="171.2" stroke="#2a1a1a" stroke-width="0.85" />
<line x1="491.8" y1="239.1" x2="534.8" y2="170.5" stroke="#2a1a1a" stroke-width="0.85" />
<line x1="494.4" y1="238.5" x2="537.4" y2="169.9" stroke="#2a1a1a" stroke-width="0.85" />
<line x1="497.0" y1="237.8" x2="539.9" y2="169.2" stroke="#2a1a1a" stroke-width="0.85" />
<line x1="499.6" y1="237.2" x2="542.5" y2="168.6" stroke="#2a1a1a" stroke-width="0.85" />
<line x1="502.2" y1="236.5" x2="545.0" y2="167.9" stroke="#2a1a1a" stroke-width="0.85" />
<line x1="504.8" y1="235.9" x2="547.6" y2="167.2" stroke="#2a1a1a" stroke-width="0.85" />
<line x1="507.4" y1="235.2" x2="550.1" y2="166.6" stroke="#2a1a1a" stroke-width="0.85" />
<line x1="510.0" y1="234.6" x2="552.7" y2="165.9" stroke="#2a1a1a" stroke-width="0.85" />
<line x1="512.5" y1="233.9" x2="555.2" y2="165.2" stroke="#2a1a1a" stroke-width="0.85" />
<line x1="515.1" y1="233.2" x2="557.8" y2="164.6" stroke="#2a1a1a" stroke-width="0.85" />
<line x1="517.7" y1="232.6" x2="560.4" y2="163.9" stroke="#2a1a1a" stroke-width="0.85" />
<line x1="520.3" y1="231.9" x2="562.9" y2="163.3" stroke="#2a1a1a" stroke-width="0.85" />
<line x1="522.9" y1="231.3" x2="565.5" y2="162.6" stroke="#2a1a1a" stroke-width="0.85" />
<line x1="525.5" y1="230.6" x2="568.0" y2="161.9" stroke="#2a1a1a" stroke-width="0.85" />
<line x1="528.1" y1="230.0" x2="570.6" y2="161.3" stroke="#2a1a1a" stroke-width="0.85" />
<line x1="530.7" y1="229.3" x2="573.1" y2="160.6" stroke="#2a1a1a" stroke-width="0.85" />
<line x1="533.3" y1="228.7" x2="575.7" y2="160.0" stroke="#2a1a1a" stroke-width="0.85" />
<line x1="535.9" y1="228.0" x2="578.2" y2="159.3" stroke="#2a1a1a" stroke-width="0.85" />
<line x1="538.5" y1="227.4" x2="580.8" y2="158.6" stroke="#2a1a1a" stroke-width="0.85" />
<line x1="541.1" y1="226.7" x2="583.3" y2="158.0" stroke="#2a1a1a" stroke-width="0.85" />
<line x1="543.7" y1="226.0" x2="585.9" y2="157.3" stroke="#2a1a1a" stroke-width="0.85" />
<line x1="546.3" y1="225.4" x2="588.4" y2="156.7" stroke="#2a1a1a" stroke-width="0.85" />
<line x1="548.9" y1="224.7" x2="591.0" y2="156.0" stroke="#2a1a1a" stroke-width="0.85" />
<line x1="551.5" y1="224.1" x2="593.6" y2="155.3" stroke="#2a1a1a" stroke-width="0.85" />
<line x1="554.1" y1="223.4" x2="596.1" y2="154.7" stroke="#2a1a1a" stroke-width="0.85" />
<line x1="556.6" y1="222.8" x2="598.7" y2="154.0" stroke="#2a1a1a" stroke-width="0.85" />
<line x1="559.2" y1="222.1" x2="601.2" y2="153.4" stroke="#2a1a1a" stroke-width="0.85" />
<line x1="561.8" y1="221.5" x2="603.8" y2="152.7" stroke="#2a1a1a" stroke-width="0.85" />
<line x1="564.4" y1="220.8" x2="606.3" y2="152.0" stroke="#2a1a1a" stroke-width="0.85" />
<line x1="567.0" y1="220.2" x2="608.9" y2="151.4" stroke="#2a1a1a" stroke-width="0.85" />
<line x1="569.6" y1="219.5" x2="611.4" y2="150.7" stroke="#2a1a1a" stroke-width="0.85" />
<line x1="572.2" y1="218.8" x2="614.0" y2="150.1" stroke="#2a1a1a" stroke-width="0.85" />
<line x1="574.8" y1="218.2" x2="616.5" y2="149.4" stroke="#2a1a1a" stroke-width="0.85" />
<line x1="577.4" y1="217.5" x2="619.1" y2="148.7" stroke="#2a1a1a" stroke-width="0.85" />
<line x1="580.0" y1="216.9" x2="621.6" y2="148.1" stroke="#2a1a1a" stroke-width="0.85" />
<line x1="582.6" y1="216.2" x2="624.2" y2="147.4" stroke="#2a1a1a" stroke-width="0.85" />
<line x1="585.2" y1="215.6" x2="626.8" y2="146.8" stroke="#2a1a1a" stroke-width="0.85" />
<line x1="587.8" y1="214.9" x2="629.3" y2="146.1" stroke="#2a1a1a" stroke-width="0.85" />
<line x1="590.4" y1="214.3" x2="631.9" y2="145.4" stroke="#2a1a1a" stroke-width="0.85" />
<line x1="593.0" y1="213.6" x2="634.4" y2="144.8" stroke="#2a1a1a" stroke-width="0.85" />
<line x1="595.6" y1="212.9" x2="637.0" y2="144.1" stroke="#2a1a1a" stroke-width="0.85" />
<line x1="598.2" y1="212.3" x2="639.5" y2="143.4" stroke="#2a1a1a" stroke-width="0.85" />
<line x1="600.7" y1="211.6" x2="642.1" y2="142.8" stroke="#2a1a1a" stroke-width="0.85" />
<line x1="603.3" y1="211.0" x2="644.6" y2="142.1" stroke="#2a1a1a" stroke-width="0.85" />
<line x1="605.9" y1="210.3" x2="647.2" y2="141.5" stroke="#2a1a1a" stroke-width="0.85" />
<line x1="608.5" y1="209.7" x2="649.7" y2="140.8" stroke="#2a1a1a" stroke-width="0.85" />
<line x1="611.1" y1="209.0" x2="652.3" y2="140.1" stroke="#2a1a1a" stroke-width="0.85" />
<line x1="613.7" y1="208.4" x2="654.8" y2="139.5" stroke="#2a1a1a" stroke-width="0.85" />
<line x1="616.3" y1="207.7" x2="657.4" y2="138.8" stroke="#2a1a1a" stroke-width="0.85" />
<line x1="618.9" y1="207.1" x2="659.9" y2="138.2" stroke="#2a1a1a" stroke-width="0.85" />
<line x1="621.5" y1="206.4" x2="662.5" y2="137.5" stroke="#2a1a1a" stroke-width="0.85" />
<line x1="403.6" y1="261.4" x2="621.5" y2="206.4" stroke="#2a1a1a" stroke-width="0.85" />
<line x1="405.1" y1="259.1" x2="622.9" y2="204.1" stroke="#2a1a1a" stroke-width="0.85" />
<line x1="406.6" y1="256.8" x2="624.2" y2="201.8" stroke="#2a1a1a" stroke-width="0.85" />
<line x1="408.0" y1="254.6" x2="625.6" y2="199.5" stroke="#2a1a1a" stroke-width="0.85" />
<line x1="409.5" y1="252.3" x2="627.0" y2="197.2" stroke="#2a1a1a" stroke-width="0.85" />
<line x1="411.0" y1="250.0" x2="628.3" y2="194.9" stroke="#2a1a1a" stroke-width="0.85" />
<line x1="412.5" y1="247.7" x2="629.7" y2="192.6" stroke="#2a1a1a" stroke-width="0.85" />
<line x1="414.0" y1="245.4" x2="631.1" y2="190.3" stroke="#2a1a1a" stroke-width="0.85" />
<line x1="415.4" y1="243.2" x2="632.4" y2="188.0" stroke="#2a1a1a" stroke-width="0.85" />
<line x1="416.9" y1="240.9" x2="633.8" y2="185.7" stroke="#2a1a1a" stroke-width="0.85" />
<line x1="418.4" y1="238.6" x2="635.2" y2="183.4" stroke="#2a1a1a" stroke-width="0.85" />
<line x1="419.9" y1="236.3" x2="636.5" y2="181.1" stroke="#2a1a1a" stroke-width="0.85" />
<line x1="421.4" y1="234.0" x2="637.9" y2="178.8" stroke="#2a1a1a" stroke-width="0.85" />
<line x1="422.8" y1="231.8" x2="639.3" y2="176.5" stroke="#2a1a1a" stroke-width="0.85" />
<line x1="424.3" y1="229.5" x2="640.6" y2="174.2" stroke="#2a1a1a" stroke-width="0.85" />
<line x1="425.8" y1="227.2" x2="642.0" y2="171.9" stroke="#2a1a1a" stroke-width="0.85" />
<line x1="427.3" y1="224.9" x2="643.4" y2="169.7" stroke="#2a1a1a" stroke-width="0.85" />
<line x1="428.8" y1="222.6" x2="644.7" y2="167.4" stroke="#2a1a1a" stroke-width="0.85" />
<line x1="430.2" y1="220.4" x2="646.1" y2="165.1" stroke="#2a1a1a" stroke-width="0.85" />
<line x1="431.7" y1="218.1" x2="647.5" y2="162.8" stroke="#2a1a1a" stroke-width="0.85" />
<line x1="433.2" y1="215.8" x2="648.8" y2="160.5" stroke="#2a1a1a" stroke-width="0.85" />
<line x1="434.7" y1="213.5" x2="650.2" y2="158.2" stroke="#2a1a1a" stroke-width="0.85" />
<line x1="436.2" y1="211.2" x2="651.6" y2="155.9" stroke="#2a1a1a" stroke-width="0.85" />
<line x1="437.6" y1="209.0" x2="652.9" y2="153.6" stroke="#2a1a1a" stroke-width="0.85" />
<line x1="439.1" y1="206.7" x2="654.3" y2="151.3" stroke="#2a1a1a" stroke-width="0.85" />
<line x1="440.6" y1="204.4" x2="655.7" y2="149.0" stroke="#2a1a1a" stroke-width="0.85" />
<line x1="442.1" y1="202.1" x2="657.0" y2="146.7" stroke="#2a1a1a" stroke-width="0.85" />
<line x1="443.6" y1="199.8" x2="658.4" y2="144.4" stroke="#2a1a1a" stroke-width="0.85" />
<line x1="445.0" y1="197.6" x2="659.8" y2="142.1" stroke="#2a1a1a" stroke-width="0.85" />
<line x1="446.5" y1="195.3" x2="661.1" y2="139.8" stroke="#2a1a1a" stroke-width="0.85" />
<line x1="448.0" y1="193.0" x2="662.5" y2="137.5" stroke="#2a1a1a" stroke-width="0.85" />
</g>
<line x1="403.6" y1="261.5" x2="620.6" y2="314.5" stroke="#8a8a8a" stroke-width="0.8" />
<line x1="620.6" y1="314.5" x2="663.0" y2="282.0" stroke="#9a9a9a" stroke-width="0.6" />
<text x="363.4" y="75.0" font-size="19.5" font-weight="bold" textLength="12.8" lengthAdjust="spacingAndGlyphs" fill="#111" >b</text>
<text x="520.6" y="52.7" font-size="10.2" font-weight="bold" textLength="24.2" lengthAdjust="spacingAndGlyphs" fill="#111" stroke="#111" stroke-width="0.25">CDAI</text>
<text x="368.6" y="193.4" font-size="10.8" textLength="24.2" lengthAdjust="spacingAndGlyphs" fill="#111" >CDAI</text>
<text x="403.2" y="275.2" font-size="8.9" text-anchor="middle" transform="rotate(11 403.2 275.2)" fill="#111" >0</text>
<text x="418.4" y="278.9" font-size="8.9" text-anchor="middle" transform="rotate(11 418.4 278.9)" fill="#111" >4</text>
<text x="432.5" y="282.5" font-size="8.9" text-anchor="middle" transform="rotate(11 432.5 282.5)" fill="#111" >8</text>
<text x="448.6" y="287.2" font-size="8.9" text-anchor="middle" textLength="8.5" lengthAdjust="spacingAndGlyphs" transform="rotate(11 448.6 287.2)" fill="#111" >12</text>
<text x="463.6" y="290.7" font-size="8.9" text-anchor="middle" textLength="8.5" lengthAdjust="spacingAndGlyphs" transform="rotate(11 463.6 290.7)" fill="#111" >16</text>
<text x="477.5" y="294.2" font-size="8.9" text-anchor="middle" textLength="8.5" lengthAdjust="spacingAndGlyphs" transform="rotate(11 477.5 294.2)" fill="#111" >20</text>
<text x="492.3" y="297.7" font-size="8.9" text-anchor="middle" textLength="8.5" lengthAdjust="spacingAndGlyphs" transform="rotate(11 492.3 297.7)" fill="#111" >24</text>
<text x="507.3" y="301.4" font-size="8.9" text-anchor="middle" textLength="8.5" lengthAdjust="spacingAndGlyphs" transform="rotate(11 507.3 301.4)" fill="#111" >28</text>
<text x="522.0" y="305.2" font-size="8.9" text-anchor="middle" textLength="8.5" lengthAdjust="spacingAndGlyphs" transform="rotate(11 522.0 305.2)" fill="#111" >32</text>
<text x="536.6" y="308.5" font-size="8.9" text-anchor="middle" textLength="8.5" lengthAdjust="spacingAndGlyphs" transform="rotate(11 536.6 308.5)" fill="#111" >36</text>
<text x="551.0" y="312.2" font-size="8.9" text-anchor="middle" textLength="8.5" lengthAdjust="spacingAndGlyphs" transform="rotate(11 551.0 312.2)" fill="#111" >40</text>
<text x="566.0" y="315.9" font-size="8.9" text-anchor="middle" textLength="8.5" lengthAdjust="spacingAndGlyphs" transform="rotate(11 566.0 315.9)" fill="#111" >44</text>
<text x="580.8" y="319.2" font-size="8.9" text-anchor="middle" textLength="8.5" lengthAdjust="spacingAndGlyphs" transform="rotate(11 580.8 319.2)" fill="#111" >48</text>
<text x="596.3" y="322.7" font-size="8.9" text-anchor="middle" textLength="8.5" lengthAdjust="spacingAndGlyphs" transform="rotate(11 596.3 322.7)" fill="#111" >52</text>
<text x="611.5" y="326.4" font-size="8.9" text-anchor="middle" textLength="8.5" lengthAdjust="spacingAndGlyphs" transform="rotate(11 611.5 326.4)" fill="#111" >56</text>
<text x="629.7" y="317.7" font-size="8.9" text-anchor="middle" transform="rotate(-6 629.7 317.7)" fill="#111" >0</text>
<text x="640.6" y="310.2" font-size="8.9" text-anchor="middle" transform="rotate(-6 640.6 310.2)" fill="#111" >5</text>
<text x="654.0" y="301.8" font-size="8.9" text-anchor="middle" textLength="8.5" lengthAdjust="spacingAndGlyphs" transform="rotate(-6 654.0 301.8)" fill="#111" >10</text>
<text x="665.4" y="293.4" font-size="8.9" text-anchor="middle" textLength="8.5" lengthAdjust="spacingAndGlyphs" transform="rotate(-6 665.4 293.4)" fill="#111" >15</text>
<text x="670.6" y="285.2" font-size="8.9" text-anchor="middle" textLength="8.5" lengthAdjust="spacingAndGlyphs" transform="rotate(-6 670.6 285.2)" fill="#111" >20</text>
<text x="456.1" y="314.5" font-size="10.3" textLength="37.9" lengthAdjust="spacingAndGlyphs" fill="#111" >SJC+TJC</text>
<text x="657.8" y="314.3" font-size="10.3" textLength="45.8" lengthAdjust="spacingAndGlyphs" fill="#111" >PGA+EGA</text>
<rect x="414.7" y="59.8" width="246.3" height="11.9" fill="#fff" stroke="#444" stroke-width="0.9"/>
<rect x="421.5" y="64.2" width="3.9" height="3.7" fill="#9999ff" stroke="#222" stroke-width="0.7"/>
<text x="426.4" y="68.6" font-size="8.1" textLength="14.6" lengthAdjust="spacingAndGlyphs" fill="#111" >0-10</text>
<rect x="449" y="64.2" width="3.9" height="3.7" fill="#993366" stroke="#222" stroke-width="0.7"/>
<text x="453.9" y="68.6" font-size="8.1" textLength="18.2" lengthAdjust="spacingAndGlyphs" fill="#111" >10-20</text>
<rect x="480" y="64.2" width="3.9" height="3.7" fill="#ffffcc" stroke="#222" stroke-width="0.7"/>
<text x="484.9" y="68.6" font-size="8.1" textLength="18.2" lengthAdjust="spacingAndGlyphs" fill="#111" >20-30</text>
<rect x="509.6" y="64.2" width="3.9" height="3.7" fill="#ccffff" stroke="#222" stroke-width="0.7"/>
<text x="514.5" y="68.6" font-size="8.1" textLength="18.2" lengthAdjust="spacingAndGlyphs" fill="#111" >30-40</text>
<rect x="540.3" y="64.2" width="3.9" height="3.7" fill="#660066" stroke="#222" stroke-width="0.7"/>
<text x="545.2" y="68.6" font-size="8.1" textLength="18.2" lengthAdjust="spacingAndGlyphs" fill="#111" >40-50</text>
<rect x="571.4" y="64.2" width="3.9" height="3.7" fill="#ff8080" stroke="#222" stroke-width="0.7"/>
<text x="576.3" y="68.6" font-size="8.1" textLength="18.2" lengthAdjust="spacingAndGlyphs" fill="#111" >50-60</text>
<rect x="602" y="64.2" width="3.9" height="3.7" fill="#0066cc" stroke="#222" stroke-width="0.7"/>
<text x="606.9" y="68.6" font-size="8.1" textLength="18.2" lengthAdjust="spacingAndGlyphs" fill="#111" >60-70</text>
<rect x="633" y="64.2" width="3.9" height="3.7" fill="#ccccff" stroke="#222" stroke-width="0.7"/>
<text x="637.9" y="68.6" font-size="8.1" textLength="18.2" lengthAdjust="spacingAndGlyphs" fill="#111" >70-80</text>
</svg>
</body></html>
